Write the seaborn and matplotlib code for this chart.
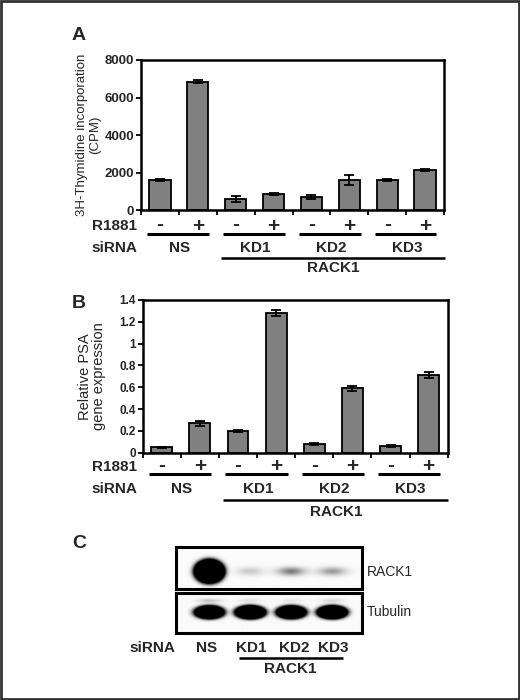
import numpy as np
import pandas as pd
import matplotlib
matplotlib.use("Agg")
import matplotlib.pyplot as plt
import matplotlib.transforms as mtransforms
from matplotlib.patches import Rectangle
from matplotlib.ticker import FuncFormatter
import seaborn as sns

# ---------------- data ----------------
r1881 = ["-", "+", "-", "+", "-", "+", "-", "+"]
sirna_groups = ["NS", "KD1", "KD2", "KD3"]
bar_ids = ["NS-", "NS+", "KD1-", "KD1+", "KD2-", "KD2+", "KD3-", "KD3+"]
thymidine = [1600, 6850, 600, 850, 700, 1600, 1600, 2150]
thymidine_err = [40, 80, 150, 60, 100, 250, 50, 60]
psa = [0.05, 0.27, 0.20, 1.28, 0.08, 0.59, 0.06, 0.71]
psa_err = [0.005, 0.022, 0.011, 0.026, 0.011, 0.025, 0.011, 0.026]
a_yticks = [0, 2000, 4000, 6000, 8000]
b_yticks = [0, 0.2, 0.4, 0.6, 0.8, 1.0, 1.2, 1.4]
blot_lanes = ["NS", "KD1", "KD2", "KD3"]
rack1_band = [4.0, 0.20, 0.50, 0.38]
tubulin_band = [2.6, 3.0, 2.6, 2.8]
tubulin_upper = [0.22, 0.10, 0.08, 0.14]

# ---------------- style ----------------
sns.set_theme(style="white")
plt.rcParams["font.family"] = ["Liberation Sans", "DejaVu Sans"]
plt.rcParams["axes.linewidth"] = 1.8

W, H = 520, 700
fig = plt.figure(figsize=(W / 100, H / 100), dpi=100)
fig.patch.set_facecolor("white")


def fx(px):
    return px / W


def fy(py):
    return 1 - py / H


BAR_COLOR = "#808080"


def bar_panel(rect, values, errs, yticks, ylabel, label_x, label_size, tick_size,
              rows_y, width):
    ax = fig.add_axes(rect)
    df = pd.DataFrame({"bar": bar_ids, "value": values})
    sns.barplot(data=df, x="bar", y="value", order=bar_ids, color=BAR_COLOR,
                saturation=1, width=width, edgecolor="black", linewidth=1.3,
                errorbar=None, ax=ax)
    ax.errorbar(np.arange(len(values)), values, yerr=errs, fmt="none",
                ecolor="black", elinewidth=1.3, capsize=3.5, capthick=1.3)
    ax.set_xlim(-0.5, len(values) - 0.5)
    ax.set_ylim(yticks[0], yticks[-1])
    ax.set_yticks(yticks)
    ax.yaxis.set_major_formatter(FuncFormatter(lambda v, p: f"{v:g}"))
    ax.set_xticks(np.arange(-0.5, len(values), 1.0))
    ax.set_xticklabels([])
    ax.set_xlabel("")
    ax.set_ylabel(ylabel, fontsize=label_size, linespacing=1.05)
    ax.yaxis.set_label_coords(label_x, 0.5)
    ax.tick_params(axis="both", direction="out", length=3.5, width=1.3,
                   color="black", bottom=True, left=True)
    for lab in ax.get_yticklabels():
        lab.set_fontsize(tick_size)
        lab.set_fontweight("bold")
    ax.tick_params(axis="y", pad=1.5)
    for s in ax.spines.values():
        s.set_color("black")
        s.set_linewidth(1.8)

    trans = mtransforms.blended_transform_factory(ax.transData, fig.transFigure)
    y_r, y_pair, y_si, y_long, y_rack = rows_y
    fig.text(fx(137), fy(y_r), "R1881", ha="right", va="center",
             fontsize=11, fontweight="bold")
    fig.text(fx(137), fy(y_si), "siRNA", ha="right", va="center",
             fontsize=11, fontweight="bold")
    for i, sign in enumerate(r1881):
        ax.text(i, fy(y_r) + (0.0015 if sign == "-" else 0), sign, transform=trans,
                ha="center", va="center", fontsize=15, fontweight="bold")
    for g, name in enumerate(sirna_groups):
        ax.plot([2 * g - 0.33, 2 * g + 1.3], [fy(y_pair)] * 2, transform=trans,
                color="black", lw=2.2, clip_on=False, solid_capstyle="butt")
        ax.text(2 * g + 0.52, fy(y_si), name, transform=trans, ha="center",
                va="center", fontsize=11, fontweight="bold")
    ax.plot([1.6, 7.52], [fy(y_long)] * 2, transform=trans, color="black",
            lw=1.8, clip_on=False, solid_capstyle="butt")
    ax.text(4.58, fy(y_rack), "RACK1", transform=trans, ha="center",
            va="center", fontsize=11, fontweight="bold")
    return ax


# Panel A
axA = bar_panel([fx(141), fy(210), fx(444 - 141), (210 - 60) / H],
                thymidine, thymidine_err, a_yticks,
                "3H-Thymidine incorporation\n(CPM)", -0.133, 9.5, 9.5,
                (226, 234, 248, 258, 268), 0.56)
# Panel B
axB = bar_panel([fx(142.7), fy(452.7), fx(447.7 - 142.7), (452.7 - 300) / H],
                psa, psa_err, b_yticks,
                "Relative PSA\ngene expression", -0.12, 10.5, 8.5,
                (466.7, 474, 489, 500, 511.7), 0.55)

# panel letters
fig.text(fx(72), fy(35), "A", ha="left", va="center", fontsize=14, fontweight="bold")
fig.text(fx(72), fy(303), "B", ha="left", va="center", fontsize=14, fontweight="bold")
fig.text(fx(72), fy(543), "C", ha="left", va="center", fontsize=14, fontweight="bold")

# ---------------- Panel C: western blot ----------------
x_lo, x_hi = -0.81, 3.72
xs = np.linspace(x_lo, x_hi, 400)
ys = np.linspace(0, 1, 120)
X, Y = np.meshgrid(xs, ys)


def blot_axes(top_px, bot_px):
    ax = fig.add_axes([fx(175.7), fy(bot_px), fx(361.7 - 175.7), (bot_px - top_px) / H])
    ax.set_xticks([])
    ax.set_yticks([])
    for s in ax.spines.values():
        s.set_color("black")
        s.set_linewidth(2.2)
    return ax


def band(xc, yc, sx, sy, power=2.0):
    r2 = ((X - xc) / sx) ** 2 + ((Y - yc) / sy) ** 2
    return np.exp(-r2 ** power)


# RACK1 blot
axR = blot_axes(547.3, 589.3)
img = np.full_like(X, 0.015)
for i, inten in enumerate(rack1_band):
    if i == 0:
        img += inten * band(i, 0.42, 0.35, 0.27)
    else:
        img += inten * band(i, 0.42, 0.33, 0.10, power=1.0)
axR.imshow(np.clip(img, 0, 1), extent=(x_lo, x_hi, 0, 1), origin="lower",
           aspect="auto", cmap="gray_r", vmin=0, vmax=1, interpolation="bilinear")
axR.set_xlim(x_lo, x_hi)
axR.set_ylim(0, 1)

# Tubulin blot
axT = blot_axes(593.3, 632.7)
img2 = np.full_like(X, 0.02)
for i, inten in enumerate(tubulin_band):
    img2 += inten * band(i, 0.52, 0.37, 0.17)
    img2 += tubulin_upper[i] * band(i, 0.81, 0.28, 0.05, power=1.0)
axT.imshow(np.clip(img2, 0, 1), extent=(x_lo, x_hi, 0, 1), origin="lower",
           aspect="auto", cmap="gray_r", vmin=0, vmax=1, interpolation="bilinear")
axT.set_xlim(x_lo, x_hi)
axT.set_ylim(0, 1)

fig.text(fx(366.7), fy(571.7), "RACK1", ha="left", va="center", fontsize=10)
fig.text(fx(366.7), fy(611.7), "Tubulin", ha="left", va="center", fontsize=10)

transC = mtransforms.blended_transform_factory(axT.transData, fig.transFigure)
fig.text(fx(175), fy(648.3), "siRNA", ha="right", va="center",
         fontsize=11, fontweight="bold")
lane_label_x = [-0.06, 1.04, 2.07, 3.02]
for xl, name in zip(lane_label_x, blot_lanes):
    axT.text(xl, fy(648.3), name, transform=transC, ha="center", va="center",
             fontsize=11, fontweight="bold")
axT.plot([0.74, 3.27], [fy(658.3)] * 2, transform=transC, color="black",
         lw=1.8, clip_on=False, solid_capstyle="butt")
axT.text(1.98, fy(669.3), "RACK1", transform=transC, ha="center", va="center",
         fontsize=11, fontweight="bold")

# outer frame
fig.patches.append(Rectangle((fx(1), fy(699)), fx(518), 698 / H, transform=fig.transFigure,
                             fill=False, edgecolor="#333333", lw=2))

fig.savefig("out.png", dpi=100, facecolor="white")
